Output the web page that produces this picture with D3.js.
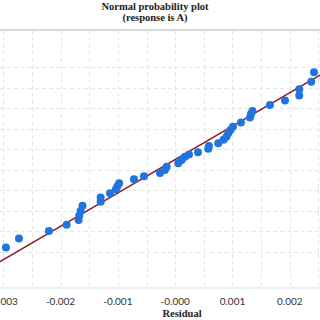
<!DOCTYPE html>
<html>
<head>
<meta charset="utf-8">
<script src="https://cdn.jsdelivr.net/npm/d3@7"></script>
<style>
 body { margin: 0; background: #fff; }
 svg { display: block; }
</style>
</head>
<body>
<svg width="320" height="320"></svg>
<script>

// Residuals (x) and their normal scores (y).

var residuals = [-0.002952, -0.002725, -0.002202, -0.001893, -0.001684, -0.001673, -0.001649, -0.001617,
 -0.001300, -0.001300, -0.001137, -0.001033, -0.001007, -0.000977, -0.000719, -0.000544, -0.000265,
 -0.000178, -0.000148, 0.000054, 0.000113, 0.000171, 0.000241, 0.000398, 0.000577, 0.000590, 0.000752,
 0.000843, 0.000895, 0.000926, 0.000965, 0.001008, 0.001148, 0.001305, 0.001322, 0.001349, 0.001654,
 0.001916, 0.002165, 0.002165, 0.002374, 0.002422];
var scores = [-2.141, -1.922, -1.739, -1.586, -1.472, -1.362, -1.253, -1.124, -1.027, -0.924, -0.822,
 -0.725, -0.652, -0.579, -0.482, -0.409, -0.326, -0.255, -0.175, -0.092, -0.012, 0.068, 0.122, 0.175,
 0.260, 0.328, 0.394, 0.479, 0.555, 0.637, 0.718, 0.798, 0.900, 1.022, 1.107, 1.180, 1.326, 1.435,
 1.557, 1.708, 1.893, 2.124];

// Fitted normal line: mean and sigma of residuals.

var fitMean = 0;
var fitSigma = 0.00123;

// Tick values and labels.

var xTicks = [-0.003, -0.002, -0.001, 0, 0.001, 0.002];
var xTickLabels = ['-0.003', '-0.002', '-0.001', '-0.000', '0.001', '0.002'];
var xGrid = [-0.003, -0.0025, -0.002, -0.0015, -0.001, -0.0005, 0, 0.0005, 0.001, 0.0015, 0.002, 0.0025];
var yGrid = [-2.25, -1.75, -1.25, -0.75, -0.25, 0.25, 0.75, 1.25, 1.75, 2.25];

var data = residuals.map(function(r, i) { return {r: r, z: scores[i]}; });

var svg = d3.select('svg');
var plotTop = 30;
var plotBottom = 288;

var x = d3.scaleLinear()
 .domain([-0.003, 0.002])
 .range([3.2, 289.8]);

var y = d3.scaleLinear()
 .domain([-2.25, 2.25])
 .range([252, 67]);

svg.append('clipPath')
 .attr('id', 'plot')
 .append('rect')
 .attr('x', 0)
 .attr('y', plotTop)
 .attr('width', 320)
 .attr('height', plotBottom - plotTop);

// Grid lines.

var grid = svg.append('g')
 .attr('stroke', '#e4e6e6')
 .attr('stroke-width', 1)
 .attr('stroke-dasharray', '4,3');

grid.selectAll('line.v')
 .data(xGrid)
 .enter().append('line')
 .attr('class', 'v')
 .attr('x1', function(d) { return Math.round(x(d)) + 0.5; })
 .attr('x2', function(d) { return Math.round(x(d)) + 0.5; })
 .attr('y1', plotTop)
 .attr('y2', plotBottom);

grid.selectAll('line.h')
 .data(yGrid)
 .enter().append('line')
 .attr('class', 'h')
 .attr('x1', 0)
 .attr('x2', 320)
 .attr('y1', function(d) { return Math.round(y(d)) + 0.5; })
 .attr('y2', function(d) { return Math.round(y(d)) + 0.5; });

// Frame (only top and bottom edges are inside the picture).

svg.append('line')
 .attr('x1', 0).attr('x2', 320)
 .attr('y1', plotTop).attr('y2', plotTop)
 .attr('stroke', '#c9d1d1')
 .attr('stroke-width', 1.5);

svg.append('line')
 .attr('x1', 0).attr('x2', 320)
 .attr('y1', plotBottom).attr('y2', plotBottom)
 .attr('stroke', '#dde1e1')
 .attr('stroke-width', 1.2);

// Fitted line.

var lineX = [-0.0035, 0.003];
svg.append('path')
 .datum(lineX)
 .attr('clip-path', 'url(#plot)')
 .attr('fill', 'none')
 .attr('stroke', '#8e1b2b')
 .attr('stroke-width', 1.5)
 .attr('d', d3.line()
  .x(function(d) { return x(d); })
  .y(function(d) { return y((d - fitMean) / fitSigma); }));

// Points.

svg.append('g')
 .selectAll('circle')
 .data(data)
 .enter().append('circle')
 .attr('cx', function(d) { return x(d.r); })
 .attr('cy', function(d) { return y(d.z); })
 .attr('r', 4)
 .attr('fill', '#1f74df');

// Tick labels and titles.

svg.append('g')
 .selectAll('text')
 .data(xTicks)
 .enter().append('text')
 .attr('x', function(d) { return x(d); })
 .attr('y', 304.5)
 .attr('text-anchor', 'middle')
 .attr('font-family', 'Lato, sans-serif')
 .attr('font-size', 10)
 .attr('fill', '#333')
 .text(function(d, i) { return xTickLabels[i]; });

svg.append('text')
 .attr('x', 182)
 .attr('y', 316.5)
 .attr('text-anchor', 'middle')
 .attr('font-family', 'Liberation Serif, serif')
 .attr('font-weight', 'bold')
 .attr('font-size', 10.5)
 .attr('fill', '#222')
 .text('Residual');

svg.append('text')
 .attr('x', 155)
 .attr('y', 10)
 .attr('text-anchor', 'middle')
 .attr('font-family', 'Liberation Serif, serif')
 .attr('font-weight', 'bold')
 .attr('font-size', 10.5)
 .attr('fill', '#222')
 .text('Normal probability plot');

svg.append('text')
 .attr('x', 155)
 .attr('y', 20.5)
 .attr('text-anchor', 'middle')
 .attr('font-family', 'Liberation Serif, serif')
 .attr('font-weight', 'bold')
 .attr('font-size', 10.5)
 .attr('fill', '#222')
 .text('(response is A)');

</script>
</body>
</html>
